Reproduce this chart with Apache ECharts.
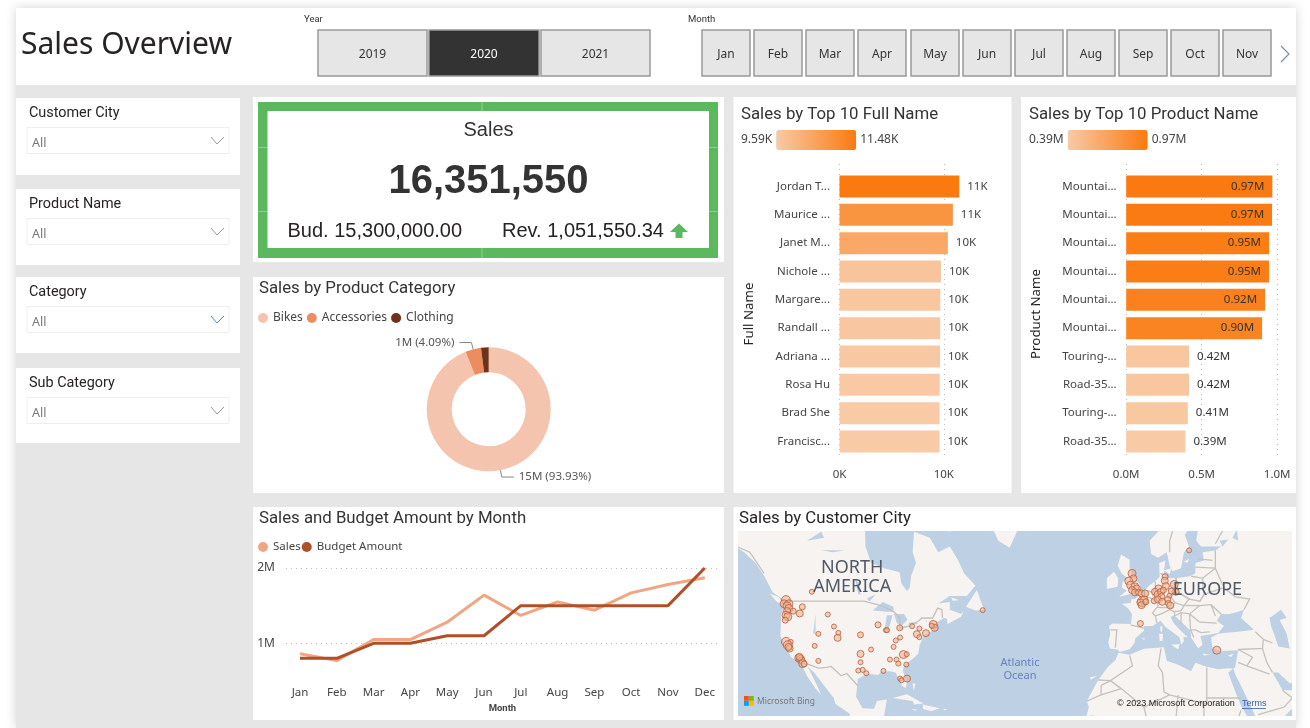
<!DOCTYPE html>
<html><head><meta charset="utf-8">
<style>html,body{margin:0;padding:0;background:#fff}#c{width:1310px;height:728px}</style>
<script src="https://cdn.jsdelivr.net/npm/echarts@6/dist/echarts.min.js"></script>
</head><body><div id="c"></div>
<script>
// ---------- data ----------
const years = ['2019','2020','2021'];
const months = ['Jan','Feb','Mar','Apr','May','Jun','Jul','Aug','Sep','Oct','Nov','Dec'];
const monthButtons = ['Jan','Feb','Mar','Apr','May','Jun','Jul','Aug','Sep','Oct','Nov'];
const slicers = ['Customer City','Product Name','Category','Sub Category'];
const peopleNames = ['Jordan T...','Maurice ...','Janet M...','Nichole ...','Margare...','Randall ...','Adriana ...','Rosa Hu','Brad She','Francisc...'];
const peopleSales = [11480,10870,10390,9720,9660,9650,9640,9610,9590,9590];
const productNames = ['Mountai...','Mountai...','Mountai...','Mountai...','Mountai...','Mountai...','Touring-...','Road-35...','Touring-...','Road-35...'];
const productSales = [0.968,0.966,0.946,0.946,0.92,0.90,0.416,0.416,0.408,0.392];
const categoryNames = ['Bikes','Accessories','Clothing'];
const categorySales = [15358000,669000,324000];
const monthlySales = [0.86,0.77,1.05,1.05,1.28,1.64,1.37,1.55,1.44,1.67,1.78,1.87];
const monthlyBudget = [0.8,0.8,1.0,1.0,1.1,1.1,1.5,1.5,1.5,1.5,1.5,2.0];
// map tile position and marker size of each customer city
const cityPoints = [
[140,285,9],[135,296,8],[148,296,8],[143,302,8],[148,310,8],[143,318,7],[140,330,8],[145,335,8],[138,345,6],[160,318,6],[178,325,7],[185,305,6],[211,260,5],[255,328,5],
[140,410,9],[153,410,5],[145,420,9],[150,430,7],[147,425,7],[175,458,8],[180,462,8],[183,466,7],[186,475,8],[177,455,7],[190,476,6],
[229,467,5],[219,422,5],[229,386,5],[272,364,5],[284,383,5],[282,398,7],[345,389,6],[393,359,6],[415,375,5],[418,375,5],[453,368,6],[487,363,5],[507,370,5],[500,387,7],[507,396,5],[525,384,7],[545,358,8],[549,368,7],[541,362,5],
[454,397,5],[442,406,5],[436,425,5],[374,433,5],[345,446,7],[345,471,5],[339,496,5],[351,494,5],[361,504,5],[408,497,5],[426,463,5],[444,463,5],[449,475,5],[463,448,8],[472,447,5],[471,478,5],[454,520,5],[458,525,5],[473,520,7],[681,315,5],
[1092,205,8],[1096,220,7],[1083,228,8],[1088,240,8],[1100,245,8],[1105,250,7],[1092,255,7],[1100,262,7],[1110,262,6],[1118,265,7],[1128,265,7],[1120,290,10],[1125,285,8],[1115,292,7],[1118,300,7],[1130,290,6],
[1183,215,6],[1182,227,7],[1185,243,7],[1165,250,7],[1155,260,7],[1162,268,7],[1172,260,7],[1178,255,6],[1208,238,8],[1212,260,7],[1200,258,6],[1195,272,5],[1173,275,7],[1153,287,6],[1163,283,7],[1175,290,7],[1190,283,6],[1192,295,6],[1197,301,7],[1115,355,6],[1249,136,5],[1325,435,8]
];
// coarse coastlines (lon, lat)
const landShapes = [
[[-145,72],[-125,71],[-110,68],[-95,68],[-94.5,60],[-92.5,57],[-88,56],[-82.5,55.2],[-82,53],[-80,51.3],[-79,52],[-78.5,54.5],[-76.8,57],[-78,59],[-77.5,62.5],[-72,61.5],[-69,59],[-65,60],[-62,57.5],[-60,55],[-56,52.5],[-59,50.2],[-65,50.2],[-69,48.5],[-65,48.8],[-65,47],[-61,46],[-60,46.8],[-61,45.3],[-65.8,43.5],[-66,44.8],[-67,45],[-70,43.7],[-70.5,42],[-74,40.6],[-75.5,38],[-76,35.5],[-78,34],[-81,32],[-81.4,30.5],[-80,26.8],[-80.4,25.2],[-81.8,26],[-82.8,28],[-84,30],[-86,30.4],[-89,30.2],[-90,29.2],[-94,29.6],[-97.2,28],[-97.5,25],[-97.8,22.4],[-95.5,18.6],[-91.5,18.5],[-90.5,21],[-87,21.5],[-88,16],[-84,15.8],[-83,10],[-100,10],[-100,16.8],[-105,20],[-105.6,22],[-109,26],[-112.5,30],[-114.7,31.7],[-112,27],[-110,23],[-112,25],[-115,29],[-117,32.5],[-120.5,34.5],[-122.5,37.5],[-124.3,40.4],[-124,46],[-122.5,48.2],[-123,49.2],[-127,51],[-130,54.5],[-133,57],[-137,59],[-140,60],[-145,60]],
[[-80,73],[-62,66],[-65,62.5],[-72,63.5],[-78,65],[-85,70]],
[[-59.3,47.7],[-55.5,51.5],[-53,47],[-56,46.8]],
[[-128,50.7],[-125,50],[-123.4,48.4],[-125.5,48.8]],
[[-64.5,49.9],[-61.7,49.2],[-64,49.1]],
[[-55,72],[-52,65],[-48,61],[-44,59.8],[-41,63],[-35,66],[-25,72]],
[[-85,22],[-80,23.2],[-74.2,20.2],[-77.5,19.9],[-78,21]],
[[-74.4,19.9],[-68.4,18.6],[-71.5,17.6],[-74.4,18.4]],
[[-78.3,18.4],[-76.2,18.1],[-77.3,17.8]],
[[-67.2,18.5],[-65.6,18.3],[-67,17.9]],
[[-78,26.7],[-77,26.5],[-77.6,24.2]],
[[62,72],[33,69.5],[25,71],[15,68],[10,63.5],[5,61],[5.5,58.7],[8,58],[11,59],[12,56.5],[13,55.4],[16,56],[17,59],[18.8,60],[17.3,62],[21,64.5],[24,65.8],[22,63],[21.3,61],[23,60],[30,60],[28,59.3],[23.5,59],[24,57.5],[21,57],[21,55],[19,54.4],[14,54],[11,54],[10,55],[10.5,57.5],[8.3,57],[8.5,54.3],[7,53.4],[4.5,52.3],[3,51.2],[1.6,50.8],[0,49.5],[-1.5,49.5],[-1.6,48.6],[-4.7,48.4],[-2.5,47.3],[-1.2,46],[-1.5,43.5],[-8,43.6],[-9.2,43],[-8.8,41],[-9.5,38.7],[-8.9,37],[-6.3,36.7],[-5.5,36],[-2,36.8],[-0.3,38.5],[0,39.8],[3,41.8],[3.1,43],[6,43],[8.8,44.3],[10.5,42.8],[15.5,40],[16,38],[17,39],[16.8,40.2],[18.4,40],[16,41.7],[13.5,43.6],[12.3,45.3],[13.7,45.6],[19.3,41.8],[19.5,40],[22,37],[23.5,38],[22.8,40.4],[26,40.8],[29,41.2],[31,43],[28.5,44.3],[30,46],[33,46],[36,46.5],[38,47],[37,45],[41.5,42],[36,41.5],[31,41.2],[29,41],[26.5,40],[27,37],[30,36.3],[36,36.5],[34.9,31.5],[34.3,31.2],[34.9,29.5],[38,24],[42,16],[43.5,12.6],[52,15.7],[59,22.5],[60,25.3],[56.5,26.2],[56,24.5],[51.5,24.5],[50,27],[48,30],[50,30],[54,26.7],[57,27],[62,25.5]],
[[-5.9,35.8],[-2,35.2],[3,36.9],[10,37.3],[11,33.5],[15,32.3],[19.5,30.4],[21,32.9],[25,31.7],[29,31],[32.3,31.3],[34.2,31.2],[32.5,29.9],[35,24],[37.3,19],[39.5,15.5],[43,12],[51,12],[45,2],[30,0],[10,0],[9,4.5],[4,6.3],[-5,5],[-8,4.4],[-15,11],[-17.5,14.7],[-16.3,19],[-17,21],[-13,27.7],[-9.8,31.5],[-7,33.7]],
[[-5.5,50],[1.4,51.2],[1.7,52.7],[0,53.5],[-1.5,55],[-2,56],[-2,57.6],[-5,58.6],[-6.2,56.5],[-4.8,55],[-3,54],[-4.5,53.2],[-4.7,52],[-3,51.4],[-5.5,50.1]],
[[-10,51.7],[-6.2,52.2],[-6,54],[-7.5,55.3],[-10,54]],
[[12.5,38],[15.5,38.2],[15,36.7]],[[8.3,41],[9.7,41],[9.5,39.1],[8.5,39]],[[8.7,43],[9.5,42.8],[9.3,41.4],[8.7,41.8]],
[[23.6,35.6],[26.3,35.2],[24,35]],[[32.4,35],[34.5,35.6],[33.5,34.6]],[[-16,28.5],[-13.5,29],[-15.5,27.8]],[[2.4,39.8],[3.4,39.7],[3,39.3]],
[[17,57.3],[18.9,57.8],[18.2,57]],[[10,55.6],[12.6,56],[12,54.8]]
];
const lakeShapes = [
[[-92,46.8],[-88.5,48.8],[-84.8,47.8],[-84.6,46.5],[-87,46.5]],
[[-87.8,42],[-86.5,42],[-85,45.7],[-87,45.7]],
[[-84.5,46],[-81,46],[-79.8,44.6],[-81.7,43.2],[-83.5,43.7]],
[[-83.3,41.8],[-78.9,42.9],[-80.5,42.6],[-82.7,42]],
[[-79.6,43.4],[-76.3,43.5],[-76.4,44.1],[-79.2,43.8]],
[[-97,50.5],[-98,53.5],[-96.5,53],[-96.3,50.5]],
[[-93,49],[-91,50.5],[-94,49.6]],
[[-112,46],[-112.8,41],[-112,41]],
[[-109,61.5],[-115,61],[-110,62.5]],
[[-106,59],[-110,59.4],[-102,59.3]],
[[-73,44.9],[-73.4,44],[-73.1,44]],
[[47,45],[51,47],[53,45],[50.5,44.5],[53,41],[54,37],[50,37.5],[49,40],[47.5,43]],
[[29.5,61],[32.5,61.2],[30.5,60]],[[34,61.5],[35.5,62.8],[36,61]]
];
const borderLines = [
[[-123,49],[-95,49],[-89,48],[-84.5,46.5],[-82.5,45],[-82.5,42.5],[-79,43],[-76,44.2],[-74.7,45],[-71,45],[-69.2,47.4],[-67.8,47],[-67.5,45]],
[[-117,32.5],[-114.7,32.5],[-111,31.3],[-108,31.5],[-106.5,31.8],[-103,29],[-101,29.7],[-97.2,25.9]],
[[-141,72],[-141,60.3],[-135,59],[-130,55]],
[[-1.7,43.3],[3.2,42.4]],[[-8.8,42],[-6.5,42],[-7,37.2]],
[[2.5,51],[4.2,50],[6,49.5],[8.2,49],[7.6,47.6],[6,46.2],[7,45.5],[7.5,43.8]],
[[14.2,54],[15,51],[12.2,50.3],[13.8,48.7],[13,47.5],[9.6,47.5],[7.6,47.6]],
[[8.7,54.9],[9.9,54.8]],[[7,53.3],[7,52.2],[6,51],[6.2,50.1]],[[4,51.4],[6,51]],
[[14.2,54],[15,51],[18.8,49.5],[22.6,49],[24,50.5],[23.5,54],[19.5,54.4]],
[[12.2,50.3],[15,51],[18.8,49.5],[17,48],[13.8,48.7]],[[17,48],[16,46.8],[13.7,46.5]],[[17,48],[22.5,48]],
[[12,59],[12,61],[14,64],[18,68.5],[20.5,69],[25,69],[29,70]],[[29,70],[29,66],[31,63],[28,60.5]],[[24,65.8],[24,68],[21,69]],
[[7,45.5],[9,46],[12,47],[13.7,46.5],[13.7,45.5]],[[13.7,45.5],[16,46.3],[19,46],[22.5,48],[26.5,48.2],[30,46]],
[[19,46],[19.3,42],[21,42],[23,41.3],[26,41.5]],[[22.5,44],[28.5,43.7]],[[19,46],[22.5,44]],[[16,46.3],[16,43.5]],[[19.3,42],[20.5,40]],
[[22.6,49],[24,50.5],[31,52],[35,50],[40,49.5],[38,47]],[[23.5,54],[28,56],[28,59.3]],[[21,56.2],[28,56]],[[31,52],[28,56]],[[22,57.8],[27,57.5]],
[[26.5,48.2],[28,45.5]],[[42,41.5],[44.8,39.5],[44.5,37],[36,36.7]],[[36,33],[39,32],[47,29.5]],[[36,36.7],[41,34.5],[39,32]],[[44.5,37],[46,33],[48,30]],[[44.8,39.5],[48,38.5]],[[52,19],[55,22],[51.5,24.5]],[[43,16.5],[52,19]],
[[25,31.5],[25,20]],[[25,22],[37,22]],[[9,37],[8,32],[9.5,30],[10,24],[12,23],[25,20]],[[-2,35],[-1,32],[-8.7,27.5],[-13,27.7]],[[-8.7,27.5],[-5,25],[3,19],[12,23]],[[-12,26],[-8.7,27.5]],[[-12,26],[-12,23],[-17,21]],
[[3,19],[4,15],[14,13]],[[-12,23],[-5,25]],[[15,23],[14,13]],[[24,20],[24,10]],[[37,18],[34,10]],[[-16,16],[-5,15],[4,15]],[[-5,15],[-3,11]]
];
const mapLabels = [['NORTH',322,186],['AMERICA',322,243],['EUROPE',1299,252]];

// ---------- helpers ----------
const textFont = '"Noto Sans"', headFont = 'Roboto', kpiFont = '"Liberation Sans"';
const els = [];
const rect = (x,y,w,h,fill,stroke,lw,z) => els.push({type:'rect',shape:{x,y,width:w,height:h},style:{fill,stroke:stroke||null,lineWidth:lw||0},z:z||0,silent:true});
const text = (x,y,t,o={}) => els.push({type:'text',x,y:y+1,z:o.z||1,silent:true,style:{text:t,fill:o.c||'#333',font:`${o.w||'normal'} ${o.s||12}px ${o.f||textFont}`,textAlign:o.a||'left',textVerticalAlign:'middle'}});
const chevron = (pts,color,lw) => els.push({type:'polyline',shape:{points:pts},style:{stroke:color,lineWidth:lw||1,fill:null},z:1,silent:true});

// report canvas with soft shadow
els.push({type:'rect',shape:{x:16,y:8,width:1280,height:720},style:{fill:'#e6e6e6',shadowBlur:10,shadowColor:'rgba(0,0,0,0.18)'},z:0,silent:true});
// header
rect(16,8,1280,77,'#fff');
text(21,44,'Sales Overview',{s:30,c:'#252423'});
text(304,19,'Year',{s:9.5,f:headFont,c:'#333'});
text(688,19,'Month',{s:9.5,f:headFont,c:'#333'});
const yearX=[318,429,541], yearW=[109,110,109];
years.forEach((y,i)=>{const on=y==='2020';
  rect(yearX[i],30,yearW[i],46,on?'#333333':'#e6e6e6','#999',1.5);
  text(yearX[i]+yearW[i]/2,54,y,{a:'center',s:12,c:on?'#fff':'#333'});});
const mx=[702,754,806,858,911,963,1015,1067,1119,1171,1223];
monthButtons.forEach((m,i)=>{rect(mx[i],30,48,46,'#e6e6e6','#999',1.5);text(mx[i]+24,54,m,{a:'center',s:12,c:'#333'});});
chevron([[1281,46],[1289,54],[1281,62]],'#7d8fa8',1.2);
// slicers
const slicerY=[98,189,277,368], slicerH=[77,76,76,75];
slicers.forEach((s,i)=>{const y=slicerY[i];
  rect(16,y,224,slicerH[i],'#fff');
  text(29,y+14,s,{s:14.4,f:headFont,c:'#252423'});
  rect(27,y+29.5,202,26,'#fff','#eeeeee',1);
  text(32,y+44,'All',{s:12.5,c:'#777'});
  const c=s==='Category'?'#4a8fd0':'#999';
  chevron([[211,y+39],[217,y+46],[224,y+39]],c,1);});
// KPI
rect(253,97,471,165,'#fff');
rect(258,102,460,156,'#5cb85c');
rect(267.5,111,441.5,137,'#fff');
[[481.5,102,1,9],[481.5,248,1,10],[258,147,9.5,1],[258,211,9.5,1],[709,147,9,1],[709,211,9,1]].forEach(r=>rect(r[0],r[1],r[2],r[3],'#8ccf8c'));
text(488.5,129,'Sales',{a:'center',s:20,f:kpiFont,c:'#333'});
text(488.5,181,'16,351,550',{a:'center',s:40,w:'bold',f:kpiFont,c:'#333'});
text(287.5,230,'Bud. 15,300,000.00',{s:20,f:kpiFont,c:'#252423'});
text(502,230,'Rev. 1,051,550.34',{s:20,f:kpiFont,c:'#252423'});
els.push({type:'polygon',shape:{points:[[679,223.5],[688,232],[682.5,232],[682.5,238],[675.5,238],[675.5,232],[670,232]]},style:{fill:'#5cb85c'},z:1,silent:true});
// panels
rect(253,277,471,216,'#fff'); rect(253,507,471,213,'#fff');
rect(733.5,97,278,396,'#fff'); rect(1021,97,275,396,'#fff'); rect(733.5,507,562.5,213,'#fff');
text(259,288,'Sales by Product Category',{s:16.8,f:headFont,c:'#333'});
text(259,518,'Sales and Budget Amount by Month',{s:16.8,f:headFont,c:'#333'});
text(741,114,'Sales by Top 10 Full Name',{s:16.8,f:headFont,c:'#333'});
text(1029,114,'Sales by Top 10 Product Name',{s:16.8,f:headFont,c:'#333'});
text(739,518,'Sales by Customer City',{s:16.8,f:headFont,c:'#252423'});
// map water (the series draw on top of it)
rect(738,531,554,185,'#bdd0e4',null,0,1);
// map annotations
const tileX=v=>738+(v-8)/2.75, tileY=v=>531+(v-78)/3;
mapLabels.forEach(l=>text(tileX(l[1]),tileY(l[2]),l[0],{a:'center',s:18,c:'#4f5a68',z:6}));
text(1020,662,'Atlantic',{a:'center',s:11,c:'#6a80b8',z:6});
text(1020,675,'Ocean',{a:'center',s:11,c:'#6a80b8',z:6});
text(757,701,'Microsoft Bing',{s:8.5,c:'#777',z:6});
[['#f25022',744,696],['#7fba00',749,696],['#00a4ef',744,701],['#ffb900',749,701]].forEach(q=>rect(q[1],q[2],4.8,4.8,q[0],null,0,6));
text(1117,703,'© 2023 Microsoft Corporation',{s:9,f:kpiFont,c:'#222',z:6});
text(1242,703,'Terms',{s:9,f:kpiFont,c:'#3a5fb0',z:6});
rect(1242,708,24,0.8,'#3a5fb0',null,0,6);

// ---------- projection into the map tile ----------
const merc = lat => Math.log(Math.tan(Math.PI/4+lat*Math.PI/360))*180/Math.PI;
const project = p => [(51+(p[0]+122.3)*2.857)*2.75, (97-(merc(p[1])-56.05)*2.857)*3];
const polySeries = (shapes,fill,z) => ({type:'custom',xAxisIndex:6,yAxisIndex:6,clip:true,silent:true,z,data:shapes.map((s,i)=>[i]),
  renderItem:(p,api)=>({type:'polygon',shape:{points:shapes[p.dataIndex].map(q=>{const t=project(q);return api.coord(t);})},style:{fill}})});
const lineSeries = (lines,stroke,z) => ({type:'custom',xAxisIndex:6,yAxisIndex:6,clip:true,silent:true,z,data:lines.map((s,i)=>[i]),
  renderItem:(p,api)=>({type:'polyline',shape:{points:lines[p.dataIndex].map(q=>api.coord(project(q)))},style:{stroke,lineWidth:1.3,fill:null}})});

// ---------- axes ----------
const axisText = {fontFamily:textFont,fontSize:11.5,color:'#444'};
const dotted = {show:true,lineStyle:{type:[1,4],color:'#bdbdbd',width:1}};
const hide = {show:false};
const hiddenVal = (min,max)=>({type:'value',min,max,show:false});
const grid = [
 {left:839.5,top:164,width:104.3,height:294},
 {left:839.5,top:172.3,width:104.3,height:283.4},
 {left:1126.2,top:164,width:151,height:294},
 {left:1126.2,top:172.3,width:151,height:283.4},
 {left:286,top:568,width:433,height:75.3},
 {left:281.6,top:568,width:441.6,height:75.3},
 {left:738,top:531,width:554,height:185}
];
const xAxis = [
 {gridIndex:0,type:'value',min:0,max:10000,interval:10000,axisLine:hide,axisTick:hide,splitLine:dotted,axisLabel:{...axisText,margin:11,formatter:v=>(v/1000)+'K'}},
 {gridIndex:1,...hiddenVal(0,10000)},
 {gridIndex:2,type:'value',min:0,max:1,interval:0.5,axisLine:hide,axisTick:hide,splitLine:dotted,axisLabel:{...axisText,margin:11,formatter:v=>v.toFixed(1)+'M'}},
 {gridIndex:3,...hiddenVal(0,1)},
 {gridIndex:4,...hiddenVal(0,1)},
 {gridIndex:5,type:'category',data:months,axisLine:hide,axisTick:hide,axisLabel:{...axisText,margin:43,interval:0},name:'Month',nameLocation:'middle',nameGap:60,nameTextStyle:{fontFamily:headFont,fontSize:9.5,fontWeight:'bold',color:'#444'}},
 {gridIndex:6,...hiddenVal(8,1532)}
];
const yAxis = [
 {gridIndex:0,...hiddenVal(0,1)},
 {gridIndex:1,type:'category',inverse:true,data:peopleNames,axisLine:hide,axisTick:hide,axisLabel:{...axisText,margin:9.5,interval:0},name:'Full Name',nameLocation:'middle',nameGap:84,nameTextStyle:{fontFamily:textFont,fontSize:13.3,color:'#252423'}},
 {gridIndex:2,...hiddenVal(0,1)},
 {gridIndex:3,type:'category',inverse:true,data:productNames,axisLine:hide,axisTick:hide,axisLabel:{...axisText,margin:9.5,interval:0},name:'Product Name',nameLocation:'middle',nameGap:83,nameTextStyle:{fontFamily:textFont,fontSize:13.3,color:'#252423'}},
 {gridIndex:4,type:'value',min:1,max:2,interval:1,axisLine:hide,axisTick:hide,splitLine:dotted,axisLabel:{...axisText,margin:11,fontSize:12,formatter:v=>v+'M'}},
 {gridIndex:5,...hiddenVal(1,2)},
 {gridIndex:6,type:'value',min:78,max:632,inverse:true,show:false}
];

// ---------- chart ----------
const chart = echarts.init(document.getElementById('c'),null,{renderer:'canvas'});
chart.setOption({
 animation:false,backgroundColor:'#ffffff',
 textStyle:{fontFamily:textFont},
 graphic:{elements:els},
 grid,xAxis,yAxis,
 legend:[
  {data:categoryNames,left:253,top:307,icon:'circle',itemWidth:10,itemHeight:10,itemGap:4,selectedMode:false,textStyle:{fontFamily:textFont,fontSize:12,color:'#444'}},
  {data:['Sales','Budget Amount'],left:253,top:536,icon:'circle',itemWidth:10,itemHeight:10,itemGap:1,selectedMode:false,textStyle:{fontFamily:textFont,fontSize:11.5,color:'#444'}}
 ],
 visualMap:[
  {type:'continuous',seriesIndex:0,dimension:0,min:9590,max:11480,orient:'horizontal',left:726,top:115,itemWidth:20,itemHeight:80,text:['11.48K','9.59K'],textGap:4,calculable:false,realtime:false,hoverLink:false,inRange:{color:['#F8CAA6','#FA7A10']},textStyle:{fontFamily:textFont,fontSize:12,color:'#444'}},
  {type:'continuous',seriesIndex:1,dimension:0,min:0.39,max:0.97,orient:'horizontal',left:1014,top:115,itemWidth:20,itemHeight:80,text:['0.97M','0.39M'],textGap:4,calculable:false,realtime:false,hoverLink:false,inRange:{color:['#F8CAA6','#FA7A10']},textStyle:{fontFamily:textFont,fontSize:12,color:'#444'}}
 ],
 series:[
  {type:'bar',xAxisIndex:1,yAxisIndex:1,data:peopleSales,barWidth:22,clip:false,z:3,
   label:{show:true,position:'right',distance:8,fontFamily:textFont,fontSize:11.5,color:'#444',formatter:p=>Math.round(p.value/1000)+'K'}},
  {type:'bar',xAxisIndex:3,yAxisIndex:3,barWidth:22,clip:false,z:3,
   data:productSales.map(v=>({value:v,label:{position:v>0.5?'insideRight':'right'}})),
   label:{show:true,distance:8,fontFamily:textFont,fontSize:11.5,color:'#333',formatter:p=>p.value.toFixed(2)+'M'}},
  {type:'pie',center:[488.7,409.3],radius:[37,62],startAngle:90,clockwise:true,
   data:categoryNames.map((n,i)=>({name:n,value:categorySales[i],
     itemStyle:{color:['#F4C4AE','#EC8D60','#6F3119'][i]},
     label:{show:i<2},labelLine:{show:i<2}})),
   label:{position:'outside',fontFamily:textFont,fontSize:11.5,color:'#555',
     formatter:p=>Math.round(p.value/1e6)+'M ('+p.percent.toFixed(2)+'%)'},
   labelLine:{length:7,length2:12,lineStyle:{color:'#888',width:1}},silent:true},
  {type:'line',name:'Sales',xAxisIndex:5,yAxisIndex:5,data:monthlySales,symbol:'none',clip:false,z:4,itemStyle:{color:'#F0A585'},lineStyle:{color:'#F0A585',width:3}},
  {type:'line',name:'Budget Amount',xAxisIndex:5,yAxisIndex:5,data:monthlyBudget,symbol:'none',clip:false,z:5,itemStyle:{color:'#AF5028'},lineStyle:{color:'#AF5028',width:3}},
  polySeries(landShapes,'#f6f3f0',2),
  polySeries(lakeShapes,'#bdd0e4',3),
  lineSeries(borderLines,'#c4c2bf',4),
  {type:'scatter',xAxisIndex:6,yAxisIndex:6,data:cityPoints,z:5,symbolSize:v=>v[2],
   itemStyle:{color:'rgba(243,178,148,0.75)',borderColor:'#b5603c',borderWidth:1}}
 ]
});
</script></body></html>
